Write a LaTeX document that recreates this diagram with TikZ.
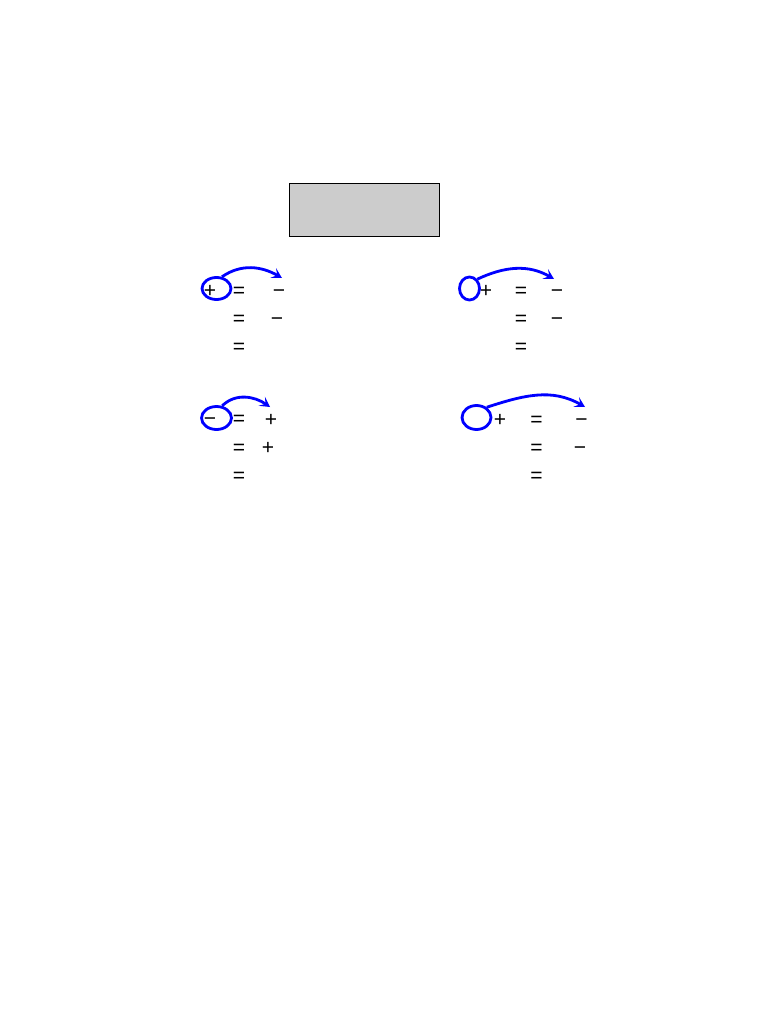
\documentclass[tikz,border=0pt]{standalone}
\usepackage{fontspec}
\setmainfont{Liberation Sans}
\usetikzlibrary{shapes.geometric,arrows.meta}
\begin{document}
\begin{tikzpicture}[x=1pt,y=-1pt,
  sym/.style={inner sep=0pt,anchor=base,font=\fontsize{21}{25}\selectfont},
  ring/.style={ellipse,draw=blue,line width=2.8pt,inner sep=0pt},
  hop/.style={draw=blue,line width=2.8pt,-{Stealth[length=10pt,width=11pt,inset=4.5pt]}}]
\useasboundingbox (0,0) rectangle (768,1024);
\node[draw=black,line width=0.8pt,fill=black!20,minimum width=150pt,minimum height=53pt,inner sep=0pt] (box) at (364,209.5) {};
% group 1
\node[sym] (p1) at (210,297) {+};
\node[sym] (q1a) at (239,297) {=};
\node[sym] (m1a) at (279,297) {−};
\node[sym] (q1b) at (239,325) {=};
\node[sym] (m1b) at (277,325) {−};
\node[sym] (q1c) at (239,353) {=};
\node[ring,minimum width=29pt,minimum height=22pt] (e1) at (216.5,288.5) {};
\coordinate (t1) at (282,278);
\draw[hop] (e1.65) to[out=35,in=150] (t1);
% group 2
\node[sym] (p2) at (486,297) {+};
\node[sym] (q2a) at (521,297) {=};
\node[sym] (m2a) at (557,297) {−};
\node[sym] (q2b) at (521,325) {=};
\node[sym] (m2b) at (557,325) {−};
\node[sym] (q2c) at (521,353) {=};
\node[ring,minimum width=20pt,minimum height=23pt] (e2) at (469.5,288.5) {};
\coordinate (t2) at (554,279);
\draw[hop] (e2.50) to[out=25,in=150] (t2);
% group 3
\node[sym] (m3) at (210,425) {−};
\node[sym] (q3a) at (239,425) {=};
\node[sym] (p3a) at (271,426) {+};
\node[sym] (q3b) at (239,454) {=};
\node[sym] (p3b) at (268,454) {+};
\node[sym] (q3c) at (239,482) {=};
\node[ring,minimum width=30pt,minimum height=23pt] (e3) at (216.5,418) {};
\coordinate (t3) at (270,407);
\draw[hop] (e3.65) to[out=45,in=145] (t3);
% group 4
\node[sym] (p4) at (500,426) {+};
\node[sym] (q4a) at (536.5,426) {=};
\node[sym] (m4a) at (581.5,426) {−};
\node[sym] (q4b) at (536.5,454) {=};
\node[sym] (m4b) at (580,454) {−};
\node[sym] (q4c) at (536.5,482) {=};
\node[ring,minimum width=29pt,minimum height=24pt] (e4) at (476.5,417.5) {};
\coordinate (t4) at (585,407);
\draw[hop] (e4.45) to[out=18,in=150] (t4);
\end{tikzpicture}
\end{document}
